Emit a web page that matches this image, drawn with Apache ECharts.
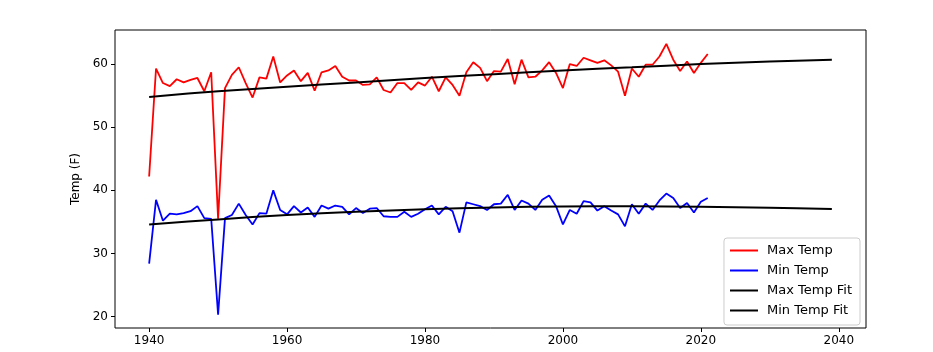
<!DOCTYPE html>
<html>
<head>
<meta charset="utf-8">
<script src="https://cdn.jsdelivr.net/npm/echarts@6/dist/echarts.min.js"></script>
<style>
  html, body { margin: 0; padding: 0; background: #fff; }
  #chart { width: 933px; height: 352px; }
</style>
</head>
<body>
<div id="chart"></div>
<script>
// yearly values, first year 1940
var startYear = 1940;
var maxTemp = [
  42.2, 59.3, 57.0, 56.5, 57.6, 57.1, 57.5, 57.8, 55.7, 58.7,
  35.5, 56.2, 58.3, 59.5, 57.0, 54.7, 57.9, 57.7, 61.2, 57.1,
  58.2, 59.0, 57.3, 58.6, 55.8, 58.7, 59.0, 59.7, 58.0, 57.4,
  57.4, 56.7, 56.8, 57.9, 55.9, 55.5, 57.0, 57.0, 55.9, 57.1,
  56.6, 58.0, 55.7, 57.9, 56.7, 55.0, 58.7, 60.3, 59.4, 57.3,
  58.9, 58.8, 60.8, 56.8, 60.7, 57.9, 58.0, 59.0, 60.3, 58.6,
  56.2, 60.0, 59.7, 61.0, 60.6, 60.2, 60.6, 59.8, 58.8, 55.0,
  59.3, 58.0, 59.9, 59.9, 61.2, 63.2, 60.7, 58.9, 60.4, 58.6,
  60.2, 61.6
];
var minTemp = [
  28.4, 38.5, 35.2, 36.3, 36.2, 36.4, 36.7, 37.5, 35.6, 35.5,
  20.3, 35.6, 36.1, 37.9, 36.1, 34.6, 36.4, 36.3, 40.0, 36.9,
  36.2, 37.5, 36.5, 37.3, 35.8, 37.6, 37.1, 37.6, 37.4, 36.2,
  37.2, 36.4, 37.1, 37.2, 35.9, 35.8, 35.8, 36.6, 35.8, 36.3,
  37.0, 37.6, 36.2, 37.4, 36.7, 33.3, 38.1, 37.8, 37.5, 36.9,
  37.8, 37.9, 39.3, 36.9, 38.4, 37.9, 36.9, 38.5, 39.2, 37.5,
  34.6, 36.9, 36.3, 38.3, 38.1, 36.8, 37.5, 36.8, 36.2, 34.3,
  37.8, 36.3, 37.9, 36.9, 38.4, 39.5, 38.8, 37.2, 38.0, 36.5,
  38.2, 38.8
];
// fitted curves, read at a few years
var fitYears = [1940, 1950, 1960, 1970, 1980, 1990, 2000, 2010, 2020, 2030, 2039];
var maxFit = [54.8, 55.7, 56.4, 57.1, 57.8, 58.4, 59.0, 59.5, 60.0, 60.4, 60.7];
var minFit = [34.6, 35.4, 36.1, 36.6, 37.0, 37.3, 37.45, 37.5, 37.4, 37.25, 37.05];
var xTicks = [1940, 1960, 1980, 2000, 2020, 2040];
var yTicks = [20, 30, 40, 50, 60];

function pairs(xs, ys) {
  return ys.map(function (v, i) { return [xs[i], v]; });
}
function yearly(vals) {
  return vals.map(function (v, i) { return [startYear + i, v]; });
}

var chart = echarts.init(document.getElementById('chart'));
var font = 'DejaVu Sans';
var lineIcon = 'rect';
chart.setOption({
  animation: false,
  textStyle: { fontFamily: font },
  grid: {
    left: 115, right: 67, top: 30, bottom: 24,
    show: true, borderColor: '#000', borderWidth: 1, backgroundColor: '#fff'
  },
  xAxis: {
    type: 'value',
    min: 1935.05, max: 2043.95,
    splitLine: { show: false },
    axisLine: { show: false },
    axisTick: { show: true, length: 4, lineStyle: { color: '#000' }, customValues: xTicks },
    axisLabel: { color: '#000', fontSize: 12, fontFamily: font, margin: 7, customValues: xTicks,
      formatter: function (v) { return String(v); } }
  },
  yAxis: {
    type: 'value',
    min: 18.2, max: 65.4,
    name: 'Temp (F)',
    nameLocation: 'middle',
    nameGap: 33,
    nameTextStyle: { color: '#000', fontSize: 12, fontFamily: font },
    splitLine: { show: false },
    axisLine: { show: false },
    axisTick: { show: true, length: 4, lineStyle: { color: '#000' }, customValues: yTicks },
    axisLabel: { color: '#000', fontSize: 12, fontFamily: font, margin: 7, customValues: yTicks }
  },
  legend: {
    orient: 'vertical',
    right: 73, bottom: 27,
    itemWidth: 28, itemHeight: 2, itemGap: 7,
    padding: [6, 8, 8, 6],
    backgroundColor: 'rgba(255,255,255,0.8)',
    borderColor: '#ccc', borderWidth: 1, borderRadius: 3,
    textStyle: { color: '#000', fontSize: 13, fontFamily: font, padding: [0, 0, 0, 4] },
    data: [
      { name: 'Max Temp', icon: lineIcon },
      { name: 'Min Temp', icon: lineIcon },
      { name: 'Max Temp Fit', icon: lineIcon },
      { name: 'Min Temp Fit', icon: lineIcon }
    ]
  },
  series: [
    { name: 'Max Temp', type: 'line', data: yearly(maxTemp), showSymbol: false, symbol: 'none',
      lineStyle: { color: '#ff0000', width: 1.8 }, itemStyle: { color: '#ff0000' } },
    { name: 'Min Temp', type: 'line', data: yearly(minTemp), showSymbol: false, symbol: 'none',
      lineStyle: { color: '#0000ff', width: 1.8 }, itemStyle: { color: '#0000ff' } },
    { name: 'Max Temp Fit', type: 'line', data: pairs(fitYears, maxFit), smooth: 0.3, symbol: 'none',
      lineStyle: { color: '#000', width: 2 }, itemStyle: { color: '#000' } },
    { name: 'Min Temp Fit', type: 'line', data: pairs(fitYears, minFit), smooth: 0.3, symbol: 'none',
      lineStyle: { color: '#000', width: 2 }, itemStyle: { color: '#000' } }
  ]
});
</script>
</body>
</html>
